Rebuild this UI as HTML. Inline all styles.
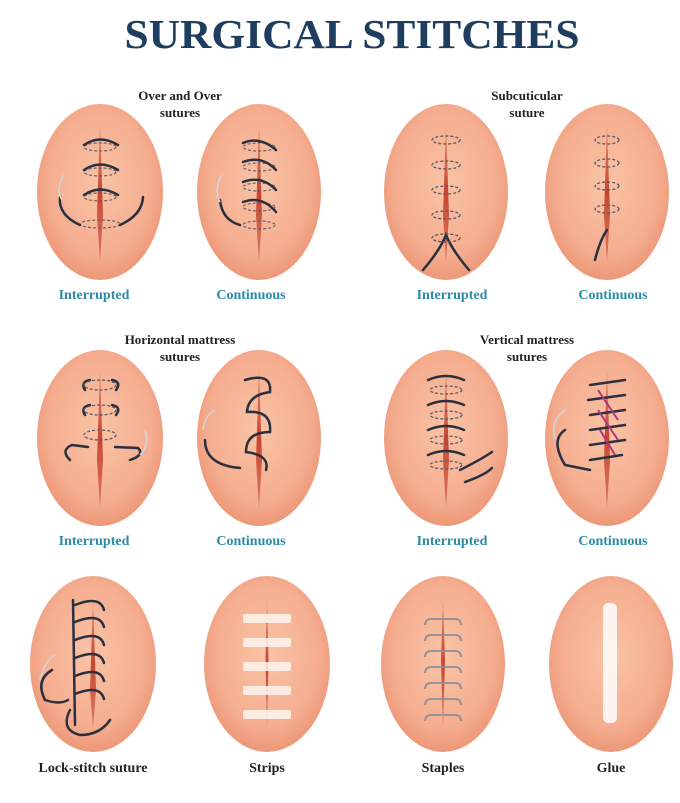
<!DOCTYPE html>
<html><head><style>body{margin:0;background:#fff}</style></head><body>
<svg width="680" height="798" viewBox="0 0 680 798" xmlns="http://www.w3.org/2000/svg">
<defs>
<radialGradient id="sk" cx="50%" cy="45%" r="55%">
<stop offset="0" stop-color="#fac3a6"/><stop offset="0.75" stop-color="#f5ad8f"/><stop offset="1" stop-color="#ec9878"/>
</radialGradient>
<linearGradient id="cut" x1="0" y1="0" x2="0" y2="1"><stop offset="0" stop-color="#c8523d" stop-opacity="0.5"/><stop offset="0.5" stop-color="#c8452f"/><stop offset="1" stop-color="#c8523d" stop-opacity="0.6"/></linearGradient>
</defs>
<text x="352" y="48" text-anchor="middle" font-family="Liberation Serif,serif" font-weight="bold" font-size="41" fill="#1f3d5e" textLength="455" lengthAdjust="spacingAndGlyphs">SURGICAL STITCHES</text>
<g font-family="Liberation Serif,serif" font-weight="bold" font-size="13" fill="#222" text-anchor="middle">
<text x="180" y="100">Over and Over</text><text x="180" y="117">sutures</text>
<text x="527" y="100">Subcuticular</text><text x="527" y="117">suture</text>
<text x="180" y="344">Horizontal mattress</text><text x="180" y="361">sutures</text>
<text x="527" y="344">Vertical mattress</text><text x="527" y="361">sutures</text>
</g>
<g font-family="Liberation Serif,serif" font-weight="bold" font-size="14" fill="#2d8aa6" text-anchor="middle">
<text x="94" y="299">Interrupted</text><text x="251" y="299">Continuous</text><text x="452" y="299">Interrupted</text><text x="613" y="299">Continuous</text>
<text x="94" y="545">Interrupted</text><text x="251" y="545">Continuous</text><text x="452" y="545">Interrupted</text><text x="613" y="545">Continuous</text>
</g>
<g font-family="Liberation Serif,serif" font-weight="bold" font-size="14" fill="#222" text-anchor="middle">
<text x="93" y="772">Lock-stitch suture</text><text x="267" y="772">Strips</text><text x="443" y="772">Staples</text><text x="611" y="772">Glue</text>
</g>
<g fill="url(#sk)">
<ellipse cx="100" cy="192" rx="63" ry="88"/><ellipse cx="259" cy="192" rx="62" ry="88"/>
<ellipse cx="446" cy="192" rx="62" ry="88"/><ellipse cx="607" cy="192" rx="62" ry="88"/>
<ellipse cx="100" cy="438" rx="63" ry="88"/><ellipse cx="259" cy="438" rx="62" ry="88"/>
<ellipse cx="446" cy="438" rx="62" ry="88"/><ellipse cx="607" cy="438" rx="62" ry="88"/>
<ellipse cx="93" cy="664" rx="63" ry="88"/><ellipse cx="267" cy="664" rx="63" ry="88"/>
<ellipse cx="443" cy="664" rx="62" ry="88"/><ellipse cx="611" cy="664" rx="62" ry="88"/>
</g>
<g fill="url(#cut)">
<path d="M100 125 L103 215 L100 262 L97 215Z"/><path d="M259 125 L262 215 L259 262 L256 215Z"/>
<path d="M446 125 L449 215 L446 262 L443 215Z"/><path d="M607 125 L610 215 L607 262 L604 215Z"/>
<path d="M100 370 L103 460 L100 508 L97 460Z"/><path d="M259 370 L262 460 L259 508 L256 460Z"/>
<path d="M446 370 L449 460 L446 508 L443 460Z"/><path d="M607 370 L610 460 L607 508 L604 460Z"/>
<path d="M93 600 L96 690 L93 728 L90 690Z"/><path d="M267 600 L268.5 660 L267 730 L265.5 660Z"/>
<path d="M443 600 L445 660 L443 730 L441 660Z"/>
</g>
<g fill="none" stroke="#5a5a66" stroke-width="1.1" stroke-dasharray="3 2">
<ellipse cx="100" cy="147" rx="16" ry="4"/><ellipse cx="100" cy="172" rx="16" ry="4"/><ellipse cx="100" cy="197" rx="16" ry="4"/><ellipse cx="100" cy="224" rx="20" ry="4"/>
<ellipse cx="259" cy="147" rx="16" ry="4"/><ellipse cx="259" cy="167" rx="16" ry="4"/><ellipse cx="259" cy="187" rx="16" ry="4"/><ellipse cx="259" cy="207" rx="16" ry="4"/><ellipse cx="259" cy="225" rx="16" ry="4"/>
</g>
<g fill="none" stroke="#2b3040" stroke-width="2.5" stroke-linecap="round">
<path d="M84 145 Q100 134 118 145"/><path d="M84 170 Q100 159 118 170"/><path d="M84 195 Q100 184 118 195"/>
<path d="M60 197 Q58 215 80 225"/><path d="M143 197 Q142 215 120 225"/>
<path d="M243 143 Q260 136 276 150 M243 162 Q262 155 276 170 M243 182 Q262 175 276 190 M243 202 Q262 195 276 212"/>
<path d="M220 200 Q222 220 240 225"/>
<path d="M423 270 Q440 250 446 235 Q452 250 469 270"/>
<path d="M595 260 Q600 240 607 230"/>
<path d="M85 390 Q80 382 90 380 M116 390 Q122 382 112 380 M85 415 Q80 407 90 405 M116 415 Q122 407 112 405"/>
<path d="M70 460 Q60 450 72 445 L88 447 M130 460 Q145 455 138 448 L115 447"/>
<path d="M245 380 Q272 372 270 392 Q248 395 247 412 Q272 410 270 432 Q246 432 246 452 Q270 455 266 470"/>
<path d="M205 440 Q205 465 240 468"/>
<path d="M428 380 Q446 372 464 380 M428 405 Q446 397 464 405 M428 430 Q446 422 464 430 M428 455 Q446 447 464 455"/>
<path d="M460 470 Q480 460 492 452 M465 482 Q485 475 492 468"/>
<path d="M590 385 L625 380 M588 400 L625 395 M590 415 L625 410 M590 430 L625 425 M590 445 L625 440 M590 460 L622 455"/>
<path d="M565 430 Q550 440 565 465 L590 470"/>
<path d="M73 600 L75 725 M75 605 Q100 595 104 610 M75 622 Q100 612 104 627 M75 640 Q100 630 104 645 M75 658 Q100 648 104 663 M75 676 Q100 666 104 681 M75 694 Q100 684 104 699"/>
<path d="M45 700 Q35 680 52 670 M45 700 Q60 705 68 700 M70 710 Q60 730 80 735 Q100 735 110 720"/>
</g>
<g fill="none" stroke="#cfd6dc" stroke-width="1.5">
<path d="M64 175 Q55 190 62 200 M222 175 Q213 190 220 202 M555 440 Q550 420 565 410 M40 680 Q45 660 55 655 M145 430 Q150 445 140 455 M203 430 Q205 415 215 410"/>
</g>
<g fill="none" stroke="#5a5a66" stroke-width="1.3" stroke-dasharray="3 2">
<ellipse cx="446" cy="140" rx="14" ry="4"/><ellipse cx="446" cy="165" rx="14" ry="4"/><ellipse cx="446" cy="190" rx="14" ry="4"/><ellipse cx="446" cy="215" rx="14" ry="4"/><ellipse cx="446" cy="238" rx="14" ry="4"/>
<ellipse cx="607" cy="140" rx="12" ry="4"/><ellipse cx="607" cy="163" rx="12" ry="4"/><ellipse cx="607" cy="186" rx="12" ry="4"/><ellipse cx="607" cy="209" rx="12" ry="4"/>
<ellipse cx="100" cy="385" rx="16" ry="5"/><ellipse cx="100" cy="410" rx="16" ry="5"/><ellipse cx="100" cy="435" rx="16" ry="5"/>
<ellipse cx="446" cy="390" rx="16" ry="4"/><ellipse cx="446" cy="415" rx="16" ry="4"/><ellipse cx="446" cy="440" rx="16" ry="4"/><ellipse cx="446" cy="465" rx="16" ry="4"/>
</g>
<g stroke="#b0367c" stroke-width="2" fill="none"><path d="M598 390 L618 420 M598 410 L618 440 M600 430 L615 455"/></g>
<g fill="#fff5ee" opacity="0.85">
<rect x="243" y="614" width="48" height="9" rx="2"/><rect x="243" y="638" width="48" height="9" rx="2"/><rect x="243" y="662" width="48" height="9" rx="2"/><rect x="243" y="686" width="48" height="9" rx="2"/><rect x="243" y="710" width="48" height="9" rx="2"/>
<rect x="603" y="603" width="14" height="120" rx="5" fill="#fff"/>
</g>
<g fill="none" stroke="#8a8f99" stroke-width="1.8">
<path d="M425 625 Q425 619 431 619 L455 619 Q461 619 461 625"/><path d="M425 641 Q425 635 431 635 L455 635 Q461 635 461 641"/><path d="M425 657 Q425 651 431 651 L455 651 Q461 651 461 657"/><path d="M425 673 Q425 667 431 667 L455 667 Q461 667 461 673"/><path d="M425 689 Q425 683 431 683 L455 683 Q461 683 461 689"/><path d="M425 705 Q425 699 431 699 L455 699 Q461 699 461 705"/><path d="M425 721 Q425 715 431 715 L455 715 Q461 715 461 721"/>
</g>
</svg>
</body></html>
